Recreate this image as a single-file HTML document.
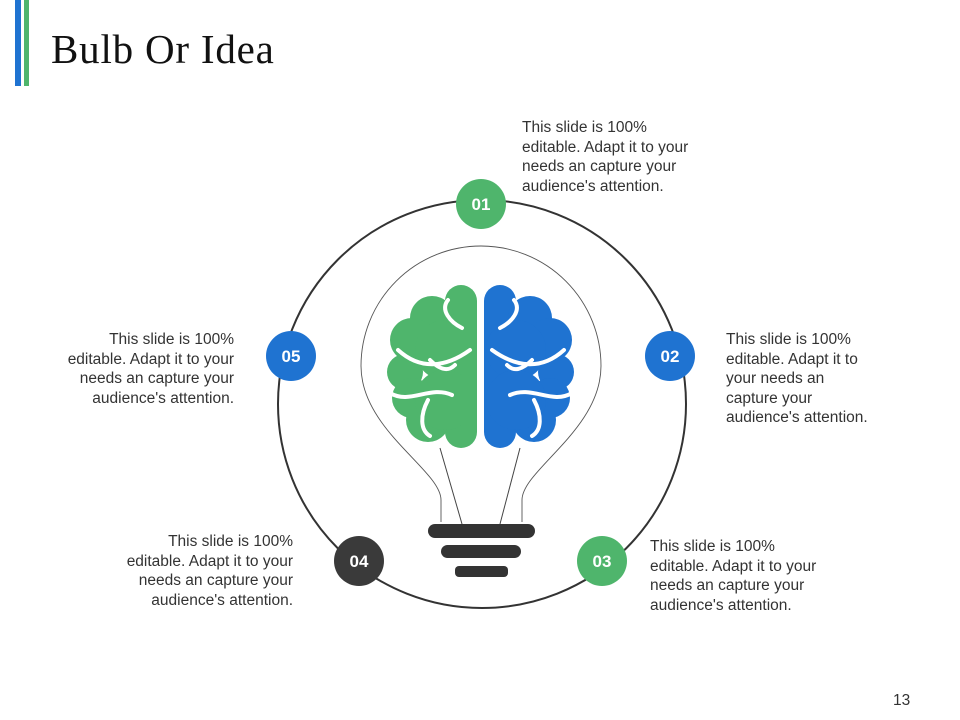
<!DOCTYPE html>
<html><head><style>
body{margin:0;width:960px;height:720px;background:#fff;position:relative;overflow:hidden;font-family:"Liberation Sans",sans-serif}
.t{position:absolute;font-size:15.5px;line-height:19.5px;color:#333}
.r{text-align:right}
</style></head><body>
<div style="position:absolute;left:15px;top:0;width:6px;height:86px;background:#1f73d1"></div>
<div style="position:absolute;left:24px;top:0;width:5px;height:86px;background:#4fb56c"></div>
<div style="position:absolute;left:51px;top:25px;font-family:'Liberation Serif',serif;font-size:41px;letter-spacing:0.8px;color:#111">Bulb Or Idea</div>
<svg width="960" height="720" style="position:absolute;left:0;top:0">
<circle cx="482" cy="404" r="204" fill="none" stroke="#333" stroke-width="2"/>
<path d="M441,522 L441,500 C441,470 361,430 361,366 A120,120 0 1 1 601,366 C601,430 522,470 522,500 L522,522" fill="none" stroke="#555" stroke-width="0.9"/>
<line x1="440" y1="448" x2="462" y2="524" stroke="#444" stroke-width="1"/>
<line x1="520" y1="448" x2="500" y2="524" stroke="#444" stroke-width="1"/>
<g fill="#4fb56c">
<rect x="445" y="285" width="32" height="163" rx="16"/>
<circle cx="432" cy="318" r="22"/><circle cx="412" cy="340" r="22"/><circle cx="405" cy="372" r="18"/>
<circle cx="412" cy="398" r="20"/><circle cx="428" cy="420" r="22"/><circle cx="445" cy="350" r="30"/><circle cx="445" cy="400" r="30"/>
</g>
<g fill="#1f73d1">
<rect x="484" y="285" width="32" height="163" rx="16"/>
<circle cx="530" cy="318" r="22"/><circle cx="550" cy="340" r="22"/><circle cx="556" cy="372" r="18"/>
<circle cx="550" cy="398" r="20"/><circle cx="534" cy="420" r="22"/><circle cx="516" cy="350" r="30"/><circle cx="516" cy="400" r="30"/>
</g>
<g fill="none" stroke="#fff" stroke-width="4" stroke-linecap="round">
<path d="M448,300 C440,310 450,322 462,328"/><path d="M398,350 C420,370 445,368 470,350"/><path d="M430,360 C440,370 448,372 455,365"/>
<path d="M390,393 C410,405 430,385 452,395"/><path d="M428,400 C420,415 420,430 430,436"/>
<path d="M514,300 C522,310 512,322 500,328"/><path d="M564,350 C542,370 517,368 492,350"/><path d="M532,360 C522,370 514,372 507,365"/>
<path d="M572,393 C552,405 532,385 510,395"/><path d="M534,400 C542,415 542,430 532,436"/>
</g>
<rect x="428" y="524" width="107" height="14" rx="7" fill="#333"/>
<rect x="441" y="545" width="80" height="13" rx="6.5" fill="#333"/>
<rect x="455" y="566" width="53" height="11" rx="4" fill="#333"/>
<g font-family="Liberation Sans" font-weight="bold" font-size="17" fill="#fff" text-anchor="middle">
<circle cx="481" cy="204" r="25" fill="#4fb56c"/><text x="481" y="210">01</text>
<circle cx="670" cy="356" r="25" fill="#1f73d1"/><text x="670" y="362">02</text>
<circle cx="602" cy="561" r="25" fill="#4fb56c"/><text x="602" y="567">03</text>
<circle cx="359" cy="561" r="25" fill="#3a3a3a"/><text x="359" y="567">04</text>
<circle cx="291" cy="356" r="25" fill="#1f73d1"/><text x="291" y="362">05</text>
</g>
</svg>
<div class="t" style="left:522px;top:118px">This slide is 100%<br>editable. Adapt it to your<br>needs an capture your<br>audience's attention.</div>
<div class="t" style="left:726px;top:330px">This slide is 100%<br>editable. Adapt it to<br>your needs an<br>capture your<br>audience's attention.</div>
<div class="t" style="left:650px;top:537px">This slide is 100%<br>editable. Adapt it to your<br>needs an capture your<br>audience's attention.</div>
<div class="t r" style="right:667px;top:532px">This slide is 100%<br>editable. Adapt it to your<br>needs an capture your<br>audience's attention.</div>
<div class="t r" style="right:726px;top:330px">This slide is 100%<br>editable. Adapt it to your<br>needs an capture your<br>audience's attention.</div>
<div class="t" style="left:893px;top:691px">13</div>
</body></html>
